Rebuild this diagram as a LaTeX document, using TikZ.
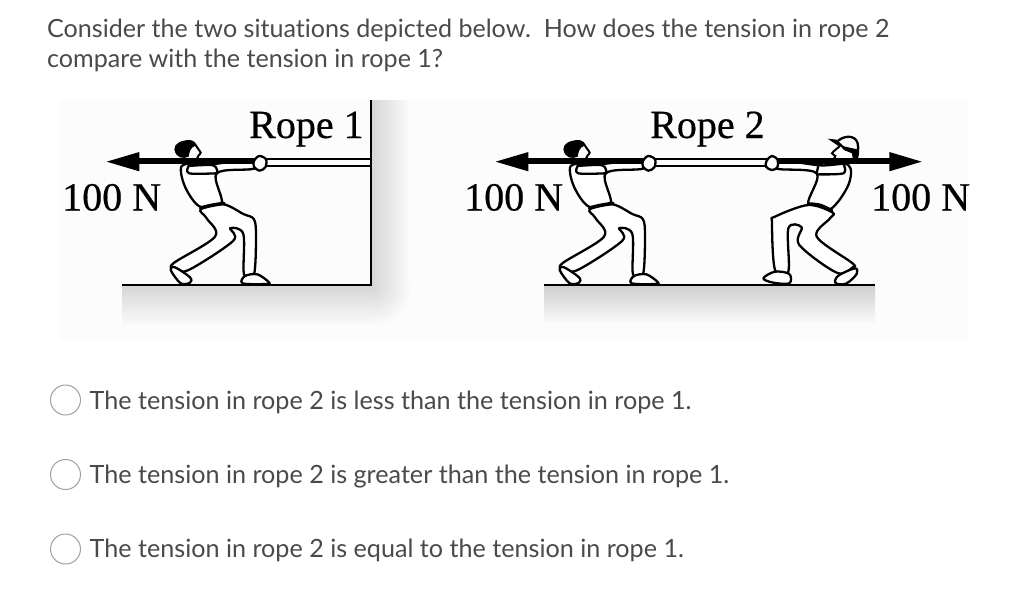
\documentclass[tikz,border=0pt]{standalone}
\usepackage{fontspec}
\setmainfont{Lato}[Ligatures={NoCommon,NoRequired,NoContextual}]
\newfontfamily\figfont{Liberation Serif}[AutoFakeBold=0.5]
\definecolor{qtext}{HTML}{4A4A4A}
\definecolor{radio}{HTML}{A0A0A0}
\definecolor{panelbg}{HTML}{FCFCFC}
\definecolor{shadowgray}{HTML}{CFCFCF}
\tikzset{
  qline/.style={anchor=base west,inner sep=0pt,text=qtext,font=\fontsize{25.1}{28}\selectfont},
  optline/.style={anchor=base west,inner sep=0pt,text=qtext,font=\fontsize{25.15}{28}\selectfont},
  radiobtn/.style={circle,draw=radio,fill=white,line width=1pt,minimum size=30pt,inner sep=0pt},
  figlabel/.style={inner sep=0pt,anchor=base west,text=black,font=\figfont\bfseries\fontsize{40}{42}\selectfont},
  ink/.style={draw=black,line width=2.3pt,line cap=round,line join=round},
  bodyfill/.style={fill=white,draw=black,line width=2.3pt,line join=round},
  rope/.style={draw=black,line width=2pt},
  force/.style={draw=black,line width=5.6pt},
  forcehead/.style={fill=black,draw=none},
  zoomed/.style={x=0.33333pt,y=-0.33333pt}
}
\newcommand{\curve}[2][ink]{\draw[#1] plot[smooth,tension=0.55] coordinates {#2};}
\newcommand{\curvec}[2][bodyfill]{\draw[#1] plot[smooth cycle,tension=0.55] coordinates {#2};}
% puller facing right, coordinates of the 3x crop
\newcommand{\lefthand}{%
  \curvec[bodyfill]{(395,228) (450,222) (492,222) (610,208) (612,236) (500,250) (515,340) (450,350) (405,290)}
  \curve{(415,228) (490,226) (502,250)}
  \curve{(415,230) (418,250) (498,250)}
  % trousers
  \curvec[bodyfill]{(520,343) (580,372) (612,388) (618,440) (612,553) (582,553) (580,432) (540,415) (550,452) (420,538) (375,540) (370,520) (495,440) (470,385) (452,358)}
  \curve[draw=black,line width=3.6pt,line cap=round]{(452,354) (485,346) (522,340)}
  % feet
  \curvec[bodyfill]{(362,540) (375,532) (420,562) (420,578) (392,580)}
  \curvec[bodyfill]{(578,580) (585,558) (622,553) (656,576) (650,582)}
  % head
  \fill (373,178) .. controls (372,160) and (395,150) .. (420,150)
        .. controls (432,152) and (440,160) .. (438,166)
        .. controls (420,172) and (418,188) .. (416,200)
        .. controls (400,208) and (378,205) .. (373,178) -- cycle;
  \curve[draw=black,line width=2pt,line cap=round]{(436,164) (444,176) (452,188) (446,196) (440,208)}
  % force arrow
  \draw[force] (262,213.5) -- (622,213.5);
  \fill[forcehead] (170,215) -- (268,186) -- (268,244) -- cycle;
  % hand
  \curvec[bodyfill]{(612,212) (628,198) (648,208) (646,232) (628,242) (612,230)}
}
\newcommand{\righthand}{%
  \curvec[bodyfill]{(385,225) (300,226) (170,210) (170,236) (290,250) (265,342) (330,358) (385,285)}
  \curve{(295,226) (290,250)}
  \curve{(296,253) (370,250) (372,226)}
  % trousers
  \curvec[bodyfill]{(265,345) (165,380) (156,400) (165,540) (205,545) (205,415) (245,412) (238,465) (350,548) (398,532) (395,518) (290,440) (330,385) (338,368)}
  \curve[draw=black,line width=3.6pt,line cap=round]{(265,342) (300,346) (335,362)}
  % feet
  \curvec[bodyfill]{(130,565) (165,545) (208,552) (208,580) (160,578)}
  \curvec[bodyfill]{(345,572) (358,555) (405,535) (410,552) (380,580) (352,582)}
  % cap dome
  \draw[ink] (355,152) .. controls (370,138) and (405,132) .. (413,160)
        .. controls (416,175) and (414,195) .. (410,207);
  % cap band
  \fill (352,158) -- (375,170) -- (412,178) -- (412,205) -- (398,205) -- (396,190) -- (372,180) -- cycle;
  % brim
  \fill (323,146) -- (350,149) -- (366,164) -- (358,170) -- cycle;
  % face
  \curve[draw=black,line width=2pt,line cap=round]{(360,168) (348,178) (336,190) (346,198) (340,208)}
  % force arrow
  \draw[force] (160,213.5) -- (512,213.5);
  \fill[forcehead] (605,215) -- (508,186) -- (508,244) -- cycle;
  % hand
  \curvec[bodyfill]{(140,212) (155,198) (172,208) (172,232) (155,240) (138,230)}
}
\begin{document}
\begin{tikzpicture}[x=1pt,y=-1pt]
\useasboundingbox (0,0) rectangle (1024,598);
\fill[white] (0,0) rectangle (1024,598);
\fill[panelbg] (60,100) rectangle (968,340);
% shadows, panel 1
\shade[top color=shadowgray!85,bottom color=panelbg] (122,286) rectangle (372,326);
\shade[left color=shadowgray!85,right color=panelbg] (372,100) rectangle (410,286);
\begin{scope}
  \clip (372,286) rectangle (412,326);
  \shade[inner color=shadowgray!85,outer color=panelbg] (372,286) circle[radius=40];
\end{scope}
% shadow, panel 2
\shade[top color=shadowgray,bottom color=panelbg] (544,286) rectangle (875,324);
% panel 1 lines
\coordinate (wallTop) at (370.5,100);
\coordinate (corner) at (370.5,285);
\coordinate (floorL) at (122,285);
\coordinate (ropeAa) at (262,159);
\coordinate (ropeAb) at (370,159);
\coordinate (ropeBa) at (262,165.6);
\coordinate (ropeBb) at (370,165.6);
\draw[rope] (wallTop) -- (corner) -- (floorL);
\draw[rope] (ropeAa) -- (ropeAb);
\draw[rope] (ropeBa) -- (ropeBb);
% panel 2 lines
\coordinate (floor2L) at (544,285);
\coordinate (floor2R) at (875,285);
\coordinate (ropeCa) at (650,159);
\coordinate (ropeCb) at (770,159);
\coordinate (ropeDa) at (650,165.6);
\coordinate (ropeDb) at (770,165.6);
\draw[rope] (floor2L) -- (floor2R);
\draw[rope] (ropeCa) -- (ropeCb);
\draw[rope] (ropeDa) -- (ropeDb);
% people
\begin{scope}[shift={(50,90)},zoomed] \lefthand \end{scope}
\begin{scope}[shift={(439,90)},zoomed] \lefthand \end{scope}
\begin{scope}[shift={(720,90)},zoomed] \righthand \end{scope}
% figure labels
\node[figlabel] (rope1) at (249,138) {Rope 1};
\node[figlabel] (rope2) at (650,138) {Rope 2};
\node[figlabel] (forceA) at (62,210.5) {100 N};
\node[figlabel] (forceB) at (464,210.5) {100 N};
\node[figlabel] (forceC) at (871,210.5) {100 N};
% question
\node[qline] (q1) at (47,37) {Consider the two situations depicted below.\ \ How does the tension in rope 2};
\node[qline] (q2) at (47,67) {compare with the tension in rope 1?};
% options
\node[radiobtn] (r1) at (65.5,400) {};
\node[radiobtn] (r2) at (65.5,474.5) {};
\node[radiobtn] (r3) at (65.5,549) {};
\node[optline] (o1) at (89.5,409) {The tension in rope 2 is less than the tension in rope 1.};
\node[optline] (o2) at (89.5,483) {The tension in rope 2 is greater than the tension in rope 1.};
\node[optline] (o3) at (89.5,557) {The tension in rope 2 is equal to the tension in rope 1.};
\end{tikzpicture}
\end{document}
